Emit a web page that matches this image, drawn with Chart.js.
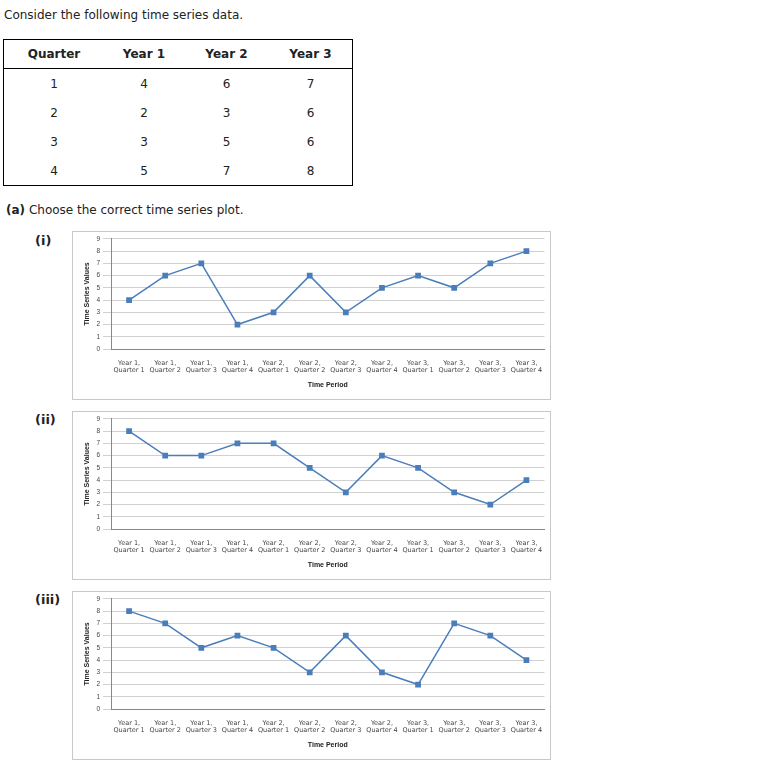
<!DOCTYPE html>
<html><head><meta charset="utf-8">
<script src="https://cdn.jsdelivr.net/npm/chart.js@4"></script>
<style>
body{margin:0;font-family:"DejaVu Sans",Verdana,sans-serif;font-size:12px;color:#222;background:#fff;}
.abs{position:absolute;}
table{border-collapse:collapse;border:1px solid #000;}
td,th{text-align:center;font-size:12px;height:29px;padding:0;}
th{border-bottom:1px solid #000;height:28px;font-weight:bold;}
.box{position:absolute;left:72px;width:477px;height:167px;border:1px solid #c8c8c8;}
.lab{position:absolute;left:35px;font-weight:bold;font-size:13px;}
</style></head><body>
<div class="abs" style="left:4px;top:8px;">Consider the following time series data.</div>
<table class="abs" style="left:3px;top:39px;width:350px;">
<tr><th style="width:100px">Quarter</th><th style="width:80px">Year 1</th><th style="width:85px">Year 2</th><th>Year 3</th></tr>
<tr><td>1</td><td>4</td><td>6</td><td>7</td></tr>
<tr><td>2</td><td>2</td><td>3</td><td>6</td></tr>
<tr><td>3</td><td>3</td><td>5</td><td>6</td></tr>
<tr><td>4</td><td>5</td><td>7</td><td>8</td></tr>
</table>
<div class="abs" style="left:6px;top:203px;"><b>(a)</b> Choose the correct time series plot.</div>
<div class="lab" style="top:233px">(i)</div>
<div class="lab" style="top:412px">(ii)</div>
<div class="lab" style="top:592px">(iii)</div>
<div class="box" style="top:231px"><canvas id="c1" width="477" height="167"></canvas></div>
<div class="box" style="top:411px"><canvas id="c2" width="477" height="167"></canvas></div>
<div class="box" style="top:591px"><canvas id="c3" width="477" height="167"></canvas></div>
<script>
const periods=[["Year 1,","Quarter 1"],["Year 1,","Quarter 2"],["Year 1,","Quarter 3"],["Year 1,","Quarter 4"],["Year 2,","Quarter 1"],["Year 2,","Quarter 2"],["Year 2,","Quarter 3"],["Year 2,","Quarter 4"],["Year 3,","Quarter 1"],["Year 3,","Quarter 2"],["Year 3,","Quarter 3"],["Year 3,","Quarter 4"]];
const plotI=[4,6,7,2,3,6,3,5,6,5,7,8];
const plotII=[8,6,6,7,7,5,3,6,5,3,2,4];
const plotIII=[8,7,5,6,5,3,6,3,2,7,6,4];
const blue="#4a7ebb";
function draw(id,data){
 new Chart(document.getElementById(id),{type:'line',
 data:{labels:periods,datasets:[{data:data,borderColor:blue,backgroundColor:blue,borderWidth:1.5,pointStyle:'rect',pointRadius:3,tension:0}]},
 options:{responsive:false,animation:false,plugins:{legend:{display:false},tooltip:{enabled:false}},
  layout:{padding:{top:4,right:4,left:8,bottom:6}},
  scales:{
   x:{offset:true,grid:{display:false,drawTicks:true},border:{color:'#888'},
      ticks:{font:{size:6.5,family:"DejaVu Sans"},color:'#444',maxRotation:0,autoSkip:false,padding:2},
      title:{display:true,text:'Time Period',font:{size:7,weight:'bold'},color:'#222',padding:{top:4}}},
   y:{min:0,max:9,grid:{color:'#d0d0d0'},border:{color:'#888'},
      ticks:{stepSize:1,font:{size:6.5},color:'#444'},
      title:{display:true,text:'Time Series Values',font:{size:7,weight:'bold'},color:'#222',padding:2}}}}});
}
draw('c1',plotI);draw('c2',plotII);draw('c3',plotIII);
</script>
</body></html>
